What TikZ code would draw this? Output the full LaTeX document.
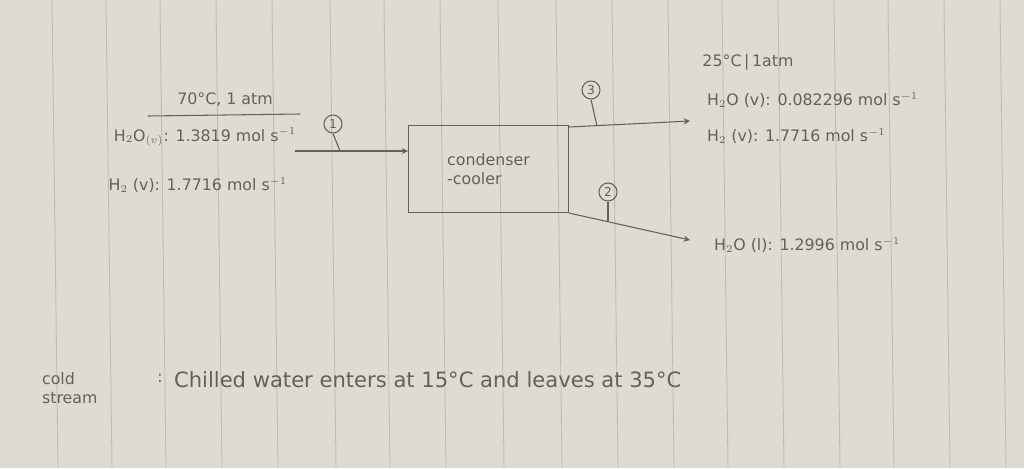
\documentclass[tikz,border=0pt]{standalone}
\usepackage{fontspec}
\setmainfont{DejaVu Sans}
\begin{document}
\begin{tikzpicture}[x=0.02cm,y=-0.02cm,
  pen/.style={draw=ink,line width=0.6pt},
  arr/.style={pen,->,>=stealth},
  txt/.style={text=ink,font=\small,inner sep=1pt},
  num/.style={pen,circle,minimum size=0.36cm,inner sep=0pt,font=\scriptsize,text=ink}]
\definecolor{paper}{RGB}{222,219,212}
\definecolor{rule}{RGB}{190,186,180}
\definecolor{ink}{RGB}{105,95,90}
\fill[paper] (0,0) rectangle (1024,468);
\useasboundingbox (0,0) rectangle (1024,468);
\foreach \x in {52,106,160,216,272,330,384,440,498,556,612,668,722,778,834,888,944,1000}
  \draw[rule,line width=0.5pt] (\x,0) -- (\x+6,468);
% left texts
\node[txt] (t70) at (225,100) {70°C, 1 atm};
\draw[pen] (148,116) -- (300,114);
\node[txt] (h2o) at (205,137) {H$_2$O$_{(v)}$: 1.3819 mol s$^{-1}$};
\node[txt] (h2) at (198,185) {H$_2$ (v): 1.7716 mol s$^{-1}$};
% condenser
\node[pen,minimum width=3.2cm,minimum height=1.74cm,anchor=north west,txt,align=left] (box) at (408,125) {condenser\\ -cooler};
\coordinate (in0) at (295,151);
\draw[arr] (in0) -- (box.west |- in0);
\node[num] (c1) at (333,124) {1};
\coordinate (s1) at (340,151);
\draw[pen] (c1.south) -- (s1);
% top outlet
\coordinate (o3a) at (box.east |- 0,127);
\coordinate (o3b) at (690,121);
\draw[arr] (o3a) -- (o3b);
\node[num] (c3) at (591,90) {3};
\draw[pen] (c3.south) -- (597,126);
% bottom outlet
\coordinate (o2b) at (690,240);
\draw[arr] (box.south east) -- (o2b);
\node[num] (c2) at (608,192) {2};
\draw[pen] (c2.south) -- (608,221);
% right texts
\node[txt] (t25) at (748,62) {25°C\,|\,1atm};
\node[txt,anchor=west] (r1) at (705,100) {H$_2$O (v): 0.082296 mol s$^{-1}$};
\node[txt,anchor=west] (r2) at (705,136) {H$_2$ (v): 1.7716 mol s$^{-1}$};
\node[txt,anchor=west] (r3) at (712,245) {H$_2$O (l): 1.2996 mol s$^{-1}$};
% bottom
\node[txt,align=left,anchor=west] (cold) at (40,388) {cold\\stream};
\node[txt] (colon) at (160,378) {:};
\node[txt,anchor=west,font=\large] (chill) at (172,380) {Chilled water enters at 15°C and leaves at 35°C};
\end{tikzpicture}
\end{document}
